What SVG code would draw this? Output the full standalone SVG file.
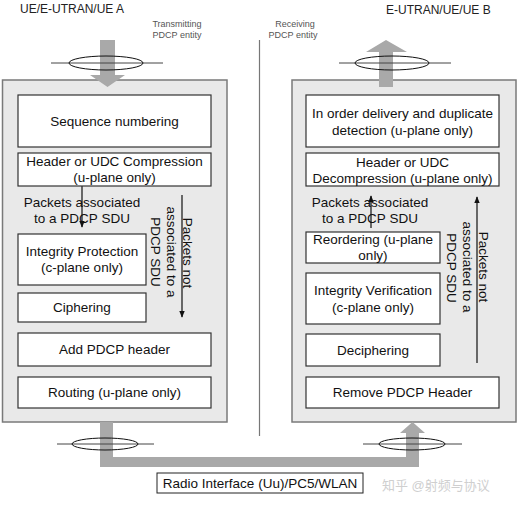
<svg xmlns="http://www.w3.org/2000/svg" width="520" height="509" viewBox="0 0 520 509">
<defs>
<style>
text{font-family:"Liberation Sans",Arial,sans-serif;fill:#111;}
.t{font-size:13.5px;text-anchor:middle;}
.s{font-size:9px;fill:#555;text-anchor:middle;}
.h{font-size:12px;fill:#222;}
.outer{fill:#e9e9e9;stroke:#7a7a7a;stroke-width:1.5;}
.box{fill:#fff;stroke:#333;stroke-width:1.2;}
.garrow{fill:#a9a9a9;stroke:none;}
.ell{fill:none;stroke:#111;stroke-width:1;}
.hl{stroke:#444;stroke-width:1;}
.ln{stroke:#111;stroke-width:1.2;fill:none;}
</style>
<marker id="ah" viewBox="0 0 10 10" refX="9" refY="5" markerWidth="7" markerHeight="7" orient="auto" markerUnits="userSpaceOnUse">
<path d="M0,1 L10,5 L0,9 Z" fill="#111"/>
</marker>
</defs>
<rect width="520" height="509" fill="#fff"/>

<text class="h" x="20" y="13">UE/E-UTRAN/UE A</text>
<text class="h" x="386" y="14">E-UTRAN/UE/UE B</text>
<text class="s" x="177" y="27">Transmitting</text>
<text class="s" x="177" y="38">PDCP  entity</text>
<text class="s" x="295" y="27">Receiving</text>
<text class="s" x="293" y="38">PDCP  entity</text>

<line x1="259.5" y1="40" x2="259.5" y2="436" stroke="#777" stroke-width="1.2"/>

<g id="tx-entity">
<rect class="outer" x="2.5" y="80" width="224.5" height="342"/>
</g>
<g id="rx-entity">
<rect class="outer" x="292" y="80" width="224" height="342"/>
</g>

<g id="connectors">
<!-- top left gray arrow -->
<path class="garrow" d="M100,40 H115 V75 H125 L107.5,87 L90,75 H100 Z"/>
<line class="hl" x1="51" y1="63" x2="163" y2="63"/>
<ellipse class="ell" cx="106" cy="63" rx="37" ry="7"/>
<!-- top right gray arrow -->
<path class="garrow" d="M386,40 L407,52 H393 V87 H379 V52 H366 Z"/>
<line class="hl" x1="339" y1="63" x2="451" y2="63"/>
<ellipse class="ell" cx="392" cy="63" rx="37" ry="7"/>
<!-- bottom gray path -->
<path class="garrow" d="M100,422 H113 V457 H406 V433 H400 L412.5,422 L425,433 H419 V467 H100 Z"/>
<line class="hl" x1="57" y1="444" x2="154" y2="444"/>
<ellipse class="ell" cx="105" cy="444" rx="33" ry="6"/>
<line class="hl" x1="363" y1="444" x2="462" y2="444"/>
<ellipse class="ell" cx="412" cy="444" rx="33" ry="6"/>
<!-- black arrows -->
<line class="ln" x1="82" y1="186" x2="82" y2="227" marker-end="url(#ah)"/>
<line class="ln" x1="182" y1="195" x2="182" y2="317" marker-end="url(#ah)"/>
<line class="ln" x1="371" y1="228" x2="371" y2="196" marker-end="url(#ah)"/>
<line class="ln" x1="477" y1="363" x2="477" y2="197" marker-end="url(#ah)"/>
</g>

<g id="seq-num"><rect class="box" x="18" y="95" width="193" height="52"/><text class="t" x="114.5" y="126">Sequence numbering</text></g>
<g id="hdr-comp"><rect class="box" x="18" y="153" width="193" height="33"/><text class="t" x="114.5" y="166">Header or UDC Compression</text><text class="t" x="114.5" y="182">(u-plane only)</text></g>
<g id="tx-assoc-label"><text class="t" x="82" y="207">Packets associated</text><text class="t" x="82" y="223">to a PDCP SDU</text></g>
<g id="integ-prot"><rect class="box" x="18" y="234" width="128" height="51"/><text class="t" x="82" y="256">Integrity Protection</text><text class="t" x="82" y="272">(c-plane only)</text></g>
<g id="ciphering"><rect class="box" x="18" y="293" width="128" height="29"/><text class="t" x="82" y="312">Ciphering</text></g>
<g id="tx-notassoc-label">
<text class="t" transform="translate(188,253) rotate(90)" x="0" y="5">Packets not</text>
<text class="t" transform="translate(172,252) rotate(90)" x="0" y="5">associated to a</text>
<text class="t" transform="translate(156,252) rotate(90)" x="0" y="5">PDCP SDU</text>
</g>
<g id="add-hdr"><rect class="box" x="18" y="333" width="193" height="33"/><text class="t" x="114.5" y="354">Add PDCP header</text></g>
<g id="routing"><rect class="box" x="18" y="377" width="193" height="31"/><text class="t" x="114.5" y="397">Routing (u-plane only)</text></g>

<g id="in-order"><rect class="box" x="306" y="95" width="193" height="52"/><text class="t" x="402.5" y="118">In order delivery and duplicate</text><text class="t" x="402.5" y="135">detection (u-plane only)</text></g>
<g id="hdr-decomp"><rect class="box" x="306" y="153" width="193" height="33"/><text class="t" x="402.5" y="167">Header or UDC</text><text class="t" x="402.5" y="183">Decompression (u-plane only)</text></g>
<g id="rx-assoc-label"><text class="t" x="370" y="207">Packets associated</text><text class="t" x="370" y="223">to a PDCP SDU</text></g>
<g id="reordering"><rect class="box" x="306" y="232" width="134" height="31"/><text class="t" x="373" y="244">Reordering (u-plane</text><text class="t" x="373" y="260">only)</text></g>
<g id="integ-ver"><rect class="box" x="306" y="273" width="134" height="51"/><text class="t" x="373" y="295">Integrity Verification</text><text class="t" x="373" y="312">(c-plane only)</text></g>
<g id="deciphering"><rect class="box" x="306" y="334" width="134" height="32"/><text class="t" x="373" y="355">Deciphering</text></g>
<g id="rx-notassoc-label">
<text class="t" transform="translate(484,267) rotate(90)" x="0" y="5">Packets not</text>
<text class="t" transform="translate(468,267) rotate(90)" x="0" y="5">associated to a</text>
<text class="t" transform="translate(452,268) rotate(90)" x="0" y="5">PDCP SDU</text>
</g>
<g id="remove-hdr"><rect class="box" x="306" y="377" width="193" height="31"/><text class="t" x="402.5" y="397">Remove PDCP Header</text></g>

<g id="radio-if"><rect x="157" y="473" width="206" height="20" fill="#fff" stroke="#222" stroke-width="1"/><text class="t" x="260" y="488">Radio Interface (Uu)/PC5/WLAN</text></g>

<text x="382" y="490" font-size="13" style="fill:#cfcfcf;font-family:'Liberation Sans','Noto Sans CJK SC',sans-serif">知乎 @射频与协议</text>
</svg>
